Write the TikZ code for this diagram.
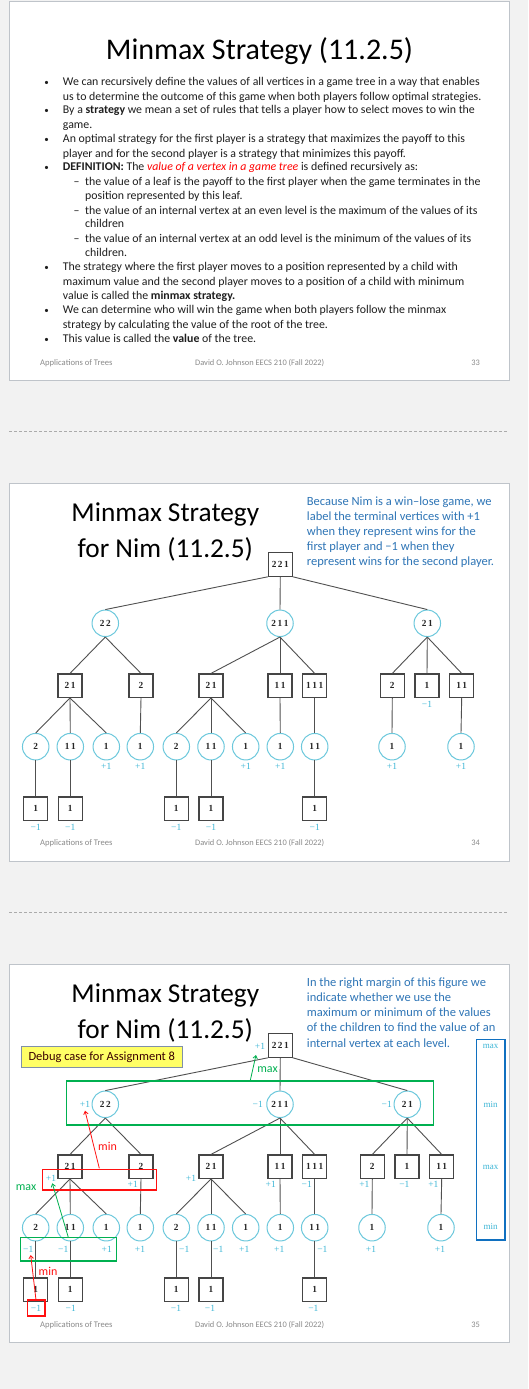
\documentclass[tikz,border=0pt]{standalone}
\usepackage{fontspec}
\setmainfont{Carlito}
\newfontfamily\treefont{Liberation Serif}
\usetikzlibrary{arrows.meta}
\definecolor{bgcol}{HTML}{F2F2F2}
\definecolor{slideborder}{HTML}{BFC4CA}
\definecolor{dashcol}{HTML}{ABABAB}
\definecolor{bodycol}{HTML}{1E1E1E}
\definecolor{bluetext}{HTML}{2E75B6}
\definecolor{footcol}{HTML}{8A8A8A}
\definecolor{treeline}{HTML}{505050}
\definecolor{circcol}{HTML}{6CC8DC}
\definecolor{boxcol}{HTML}{454545}
\definecolor{valcol}{HTML}{3DB6D6}
\definecolor{anngreen}{HTML}{00B050}
\definecolor{annred}{HTML}{FF1010}
\definecolor{boxblue}{HTML}{1070C0}
\definecolor{debugfill}{HTML}{FFFF66}
\definecolor{debugborder}{HTML}{8090A8}
\definecolor{debugtext}{HTML}{3A0000}
\tikzset{
  slide/.style={draw=slideborder, fill=white, line width=1pt},
  sepline/.style={draw=dashcol, line width=1pt, dash pattern=on 3pt off 2pt},
  tline/.style={draw=treeline, line width=0.9pt},
  cnode/.style={circle, draw=circcol, line width=1pt, minimum size=26.5pt, inner sep=0pt, fill=white, text=black!85, font=\treefont\bfseries\fontsize{9.3}{9}\selectfont},
  bnode/.style={rectangle, draw=boxcol, line width=1.1pt, minimum width=24pt, minimum height=23.5pt, inner sep=0pt, fill=white, text=black!85, font=\treefont\bfseries\fontsize{9.3}{9}\selectfont},
  val/.style={text=valcol, inner sep=0pt, font=\treefont\fontsize{9.5}{9}\selectfont},
  body/.style={anchor=mid west, inner sep=0pt, text=bodycol, font=\fontsize{11.85}{13}\selectfont},
  bul/.style={anchor=mid, inner sep=0pt, text=bodycol, font=\fontsize{9}{11}\selectfont},
  dsh/.style={anchor=mid, inner sep=0pt, text=bodycol, font=\fontsize{11.85}{13}\selectfont},
  blue/.style={anchor=mid west, inner sep=0pt, text=bluetext, font=\fontsize{12.5}{14}\selectfont},
  foot/.style={anchor=mid, inner sep=0pt, text=footcol, font=\fontsize{8.4}{9}\selectfont},
  footl/.style={foot, anchor=mid west, font=\fontsize{8.6}{9}\selectfont},
  bigtitle/.style={anchor=base, inner sep=0pt, text=black, font=\fontsize{30}{34}\selectfont},
  title/.style={anchor=base, inner sep=0pt, text=black, font=\fontsize{27.3}{32}\selectfont},
  gbox/.style={draw=anngreen, line width=1.2pt},
  rbox/.style={draw=annred, line width=1.2pt},
  garrow/.style={draw=anngreen, line width=0.8pt, -{Straight Barb[length=3pt,width=4.5pt]}},
  rarrow/.style={draw=annred, line width=0.8pt, -{Straight Barb[length=3pt,width=4.5pt]}},
  gtext/.style={text=anngreen, inner sep=0pt, font=\fontsize{12}{12}\selectfont},
  rtext/.style={text=annred, inner sep=0pt, font=\fontsize{12}{12}\selectfont},
  lvl/.style={text=valcol, inner sep=0pt, font=\treefont\fontsize{9}{9}\selectfont},
}
\newcommand\mytree[3]{%
\begin{scope}[shift={(0,#2)}]
\node[bnode] (#1R) at (280.3,564.5) {2\,2\,1};
\node[cnode] (#1A) at (105.3,623.3) {2\,2};
\node[cnode] (#1B) at (280,623.3) {2\,1\,1};
\node[cnode] (#1C) at ({427.3+(#3)},623.3) {2\,1};
\node[bnode] (#1Aa) at (70,685.7) {2\,1};
\node[bnode] (#1Ab) at (141,685.7) {2};
\node[bnode] (#1Ba) at (211,685.7) {2\,1};
\node[bnode] (#1Bb) at (280,685.7) {1\,1};
\node[bnode] (#1Bc) at (314.7,685.7) {1\,1\,1};
\node[bnode] (#1Ca) at ({392.3+(#3)},685.7) {2};
\node[bnode] (#1Cb) at ({427+(#3)},685.7) {1};
\node[bnode] (#1Cc) at ({461.7+(#3)},685.7) {1\,1};
\node[cnode] (#1Aaa) at (35.7,746.7) {2};
\node[cnode] (#1Aab) at (70.3,746.7) {1\,1};
\node[cnode] (#1Aac) at (106.3,746.7) {1};
\node[cnode] (#1Aba) at (140.3,746.7) {1};
\node[cnode] (#1Baa) at (176.3,746.7) {2};
\node[cnode] (#1Bab) at (211,746.7) {1\,1};
\node[cnode] (#1Bac) at (245.7,746.7) {1};
\node[cnode] (#1Bba) at (280.3,746.7) {1};
\node[cnode] (#1Bca) at (314.7,746.7) {1\,1};
\node[cnode] (#1Caa) at ({392+(#3)},746.7) {1};
\node[cnode] (#1Cca) at ({461+(#3)},746.7) {1};
\node[bnode] (#1Aaaa) at (35.7,808.7) {1};
\node[bnode] (#1Aaba) at (70.3,808.7) {1};
\node[bnode] (#1Baaa) at (176.3,808.7) {1};
\node[bnode] (#1Baba) at (211,808.7) {1};
\node[bnode] (#1Bcaa) at (314.7,808.7) {1};
\end{scope}
\draw[tline] (#1R.south west) -- (#1A.north);
\draw[tline] (#1R.south) -- (#1B.north);
\draw[tline] (#1R.south east) -- (#1C.north);
\foreach \u/\v in {A/Aa,A/Ab,B/Ba,B/Bb,B/Bc,C/Ca,C/Cb,C/Cc,Aa/Aaa,Aa/Aab,Aa/Aac,Ab/Aba,Ba/Baa,Ba/Bab,Ba/Bac,Bb/Bba,Bc/Bca,Ca/Caa,Cc/Cca,Aaa/Aaaa,Aab/Aaba,Baa/Baaa,Bab/Baba,Bca/Bcaa}
  \draw[tline] (#1\u.south) -- (#1\v.north);
}
\begin{document}
\begin{tikzpicture}[x=1pt,y=-1pt]
\useasboundingbox (0,0) rectangle (528,1389);
\fill[bgcol] (0,0) rectangle (528,1389);
% slides
\draw[slide] (9.5,2) rectangle (509,380.5);
\draw[slide] (9.5,483) rectangle (509,861);
\draw[slide] (9.5,964) rectangle (509,1342);
\draw[sepline] (9.3,431.7) -- (506.7,431.7);
\draw[sepline] (9.3,912.3) -- (506.7,912.3);
% ---------------- slide 1 ----------------
\node[bigtitle] (t1) at (259.5,59.3) {Minmax Strategy (11.2.5)};
\node[bul] (b1) at (46.7,82.7) {•};
\node[body] (l1) at (62.7,82.7) {We can recursively define the values of all vertices in a game tree in a way that enables};
\node[body] (l2) at (62.7,97.7) {us to determine the outcome of this game when both players follow optimal strategies.};
\node[bul] (b2) at (46.7,111) {•};
\node[body] (l3) at (62.7,111) {By a \textbf{strategy} we mean a set of rules that tells a player how to select moves to win the};
\node[body] (l4) at (62.7,126) {game.};
\node[bul] (b3) at (46.7,140) {•};
\node[body] (l5) at (62.7,140) {An optimal strategy for the first player is a strategy that maximizes the payoff to this};
\node[body] (l6) at (62.7,155) {player and for the second player is a strategy that minimizes this payoff.};
\node[bul] (b4) at (46.7,168.3) {•};
\node[body] (l7) at (62.7,168.3) {\textbf{DEFINITION:} The \textcolor{red}{\textit{value of a vertex in a game tree}} is defined recursively as:};
\node[dsh] (d1) at (76.5,183.3) {–};
\node[body] (l8) at (85,183.3) {the value of a leaf is the payoff to the first player when the game terminates in the};
\node[body] (l9) at (85,197.3) {position represented by this leaf.};
\node[dsh] (d2) at (76.5,211.7) {–};
\node[body] (l10) at (85,211.7) {the value of an internal vertex at an even level is the maximum of the values of its};
\node[body] (l11) at (85,225) {children};
\node[dsh] (d3) at (76.5,240) {–};
\node[body] (l12) at (85,240) {the value of an internal vertex at an odd level is the minimum of the values of its};
\node[body] (l13) at (85,254) {children.};
\node[bul] (b5) at (46.7,268.3) {•};
\node[body] (l14) at (62.7,268.3) {The strategy where the first player moves to a position represented by a child with};
\node[body] (l15) at (62.7,283.3) {maximum value and the second player moves to a position of a child with minimum};
\node[body] (l16) at (62.7,297.3) {value is called the \textbf{minmax strategy.}};
\node[bul] (b6) at (46.7,311) {•};
\node[body] (l17) at (62.7,311) {We can determine who will win the game when both players follow the minmax};
\node[body] (l18) at (62.7,325.7) {strategy by calculating the value of the root of the tree.};
\node[bul] (b7) at (46.7,340) {•};
\node[body] (l19) at (62.7,340) {This value is called the \textbf{value} of the tree.};
\node[footl] (f1a) at (40,362.7) {Applications of Trees};
\node[foot] (f1b) at (259.7,362.7) {David O. Johnson EECS 210 (Fall 2022)};
\node[foot] (f1c) at (475.7,362.7) {33};
% ---------------- slide 2 ----------------
\node[title] (t2a) at (165.3,521.7) {Minmax Strategy};
\node[title] (t2b) at (165.3,557.3) {for Nim (11.2.5)};
\node[blue] (p2a) at (306.7,503.3) {Because Nim is a win–lose game, we};
\node[blue] (p2b) at (306.7,518.3) {label the terminal vertices with +1};
\node[blue] (p2c) at (306.7,533.3) {when they represent wins for the};
\node[blue] (p2d) at (306.7,548.3) {first player and −1 when they};
\node[blue] (p2e) at (306.7,563.3) {represent wins for the second player.};
\mytree{s}{0}{0}
\node[val] (sv1) at (106.3,766.7) {+1};
\node[val] (sv2) at (140.3,766.7) {+1};
\node[val] (sv3) at (245.7,766.7) {+1};
\node[val] (sv4) at (280.3,766.7) {+1};
\node[val] (sv5) at (392,766.7) {+1};
\node[val] (sv6) at (461,766.7) {+1};
\node[val] (sv7) at (427,704) {−1};
\node[val] (sv8) at (35.7,827.3) {−1};
\node[val] (sv9) at (70.3,827.3) {−1};
\node[val] (sv10) at (176.3,827.3) {−1};
\node[val] (sv11) at (211,827.3) {−1};
\node[val] (sv12) at (314.7,827.3) {−1};
\node[footl] (f2a) at (40,843.3) {Applications of Trees};
\node[foot] (f2b) at (259.7,843.3) {David O. Johnson EECS 210 (Fall 2022)};
\node[foot] (f2c) at (475.7,843.3) {34};
% ---------------- slide 3 ----------------
\node[title] (t3a) at (165.3,1002.7) {Minmax Strategy};
\node[title] (t3b) at (165.3,1038.3) {for Nim (11.2.5)};
\node[blue] (p3a) at (306.7,984.3) {In the right margin of this figure we};
\node[blue] (p3b) at (306.7,999.3) {indicate whether we use the};
\node[blue] (p3c) at (306.7,1014.3) {maximum or minimum of the values};
\node[blue] (p3d) at (306.7,1029.3) {of the children to find the value of an};
\node[blue] (p3e) at (306.7,1044.7) {internal vertex at each level.};
\node[draw=debugborder, fill=debugfill, line width=0.8pt, minimum width=161pt, minimum height=21pt, inner sep=0pt, text=debugtext, font=\fontsize{12.5}{13}\selectfont] (dbg) at (101.8,1057.2) {Debug case for Assignment 8};
\mytree{t}{481}{-20}
% level value labels
\node[val] (tv0) at (260,1046.5) {+1};
\node[val] (tv1) at (85,1104) {+1};
\node[val] (tv2) at (257.7,1104) {−1};
\node[val] (tv3) at (386.7,1104) {−1};
\node[val] (tv4) at (51,1178.3) {+1};
\node[val] (tv5) at (132.7,1184) {+1};
\node[val] (tv6) at (191,1178.3) {+1};
\node[val] (tv7) at (270.7,1184) {+1};
\node[val] (tv8) at (306.7,1184) {−1};
\node[val] (tv9) at (364.3,1184) {+1};
\node[val] (tv10) at (404.3,1184) {−1};
\node[val] (tv11) at (433.3,1184) {+1};
\node[val] (tv12) at (28.3,1249) {−1};
\node[val] (tv13) at (63.3,1249) {−1};
\node[val] (tv14) at (106.7,1249) {+1};
\node[val] (tv15) at (140,1249) {+1};
\node[val] (tv16) at (184.3,1249) {−1};
\node[val] (tv17) at (218.3,1249) {−1};
\node[val] (tv18) at (244.3,1249) {+1};
\node[val] (tv19) at (279.3,1249) {+1};
\node[val] (tv20) at (322.3,1249) {−1};
\node[val] (tv21) at (371,1249) {+1};
\node[val] (tv22) at (440,1249) {+1};
\node[val] (tv23) at (36,1308.3) {−1};
\node[val] (tv24) at (70.7,1308.3) {−1};
\node[val] (tv25) at (176,1308.3) {−1};
\node[val] (tv26) at (210,1308.3) {−1};
\node[val] (tv27) at (313.3,1308.3) {−1};
% annotations
\draw[gbox] (66.7,1081) rectangle (433.3,1125);
\coordinate (ga1s) at (250,1081.7);
\coordinate (ga1e) at (256,1055);
\draw[garrow] (ga1s) -- (ga1e);
\node[gtext] (gm1) at (267.5,1069.3) {max};
\draw[rbox] (42.7,1169.3) rectangle (156.7,1190);
\coordinate (ra1s) at (99.3,1168.3);
\coordinate (ra1e) at (85,1110.7);
\draw[rarrow] (ra1s) -- (ra1e);
\node[rtext] (rm1) at (107.5,1146) {min};
\draw[gbox] (20.7,1237.3) rectangle (116.7,1261);
\coordinate (ga2s) at (68.3,1237.3);
\coordinate (ga2e) at (52.3,1183.3);
\draw[garrow] (ga2s) -- (ga2e);
\node[gtext] (gm2) at (26,1187.3) {max};
\draw[rbox] (27.3,1300) rectangle (45,1316);
\coordinate (ra2s) at (36,1300);
\coordinate (ra2e) at (30.7,1255);
\draw[rarrow] (ra2s) -- (ra2e);
\node[rtext] (rm2) at (48,1271) {min};
% right margin box
\draw[draw=boxblue, line width=1.2pt] (476.7,1039.3) rectangle (505,1240);
\node[lvl] (m1) at (490.5,1046.7) {max};
\node[lvl] (m2) at (490.5,1105) {min};
\node[lvl] (m3) at (490.5,1167.3) {max};
\node[lvl] (m4) at (490.5,1226.7) {min};
\node[footl] (f3a) at (40,1324.7) {Applications of Trees};
\node[foot] (f3b) at (259.7,1324.7) {David O. Johnson EECS 210 (Fall 2022)};
\node[foot] (f3c) at (475.7,1324.7) {35};
\end{tikzpicture}
\end{document}
